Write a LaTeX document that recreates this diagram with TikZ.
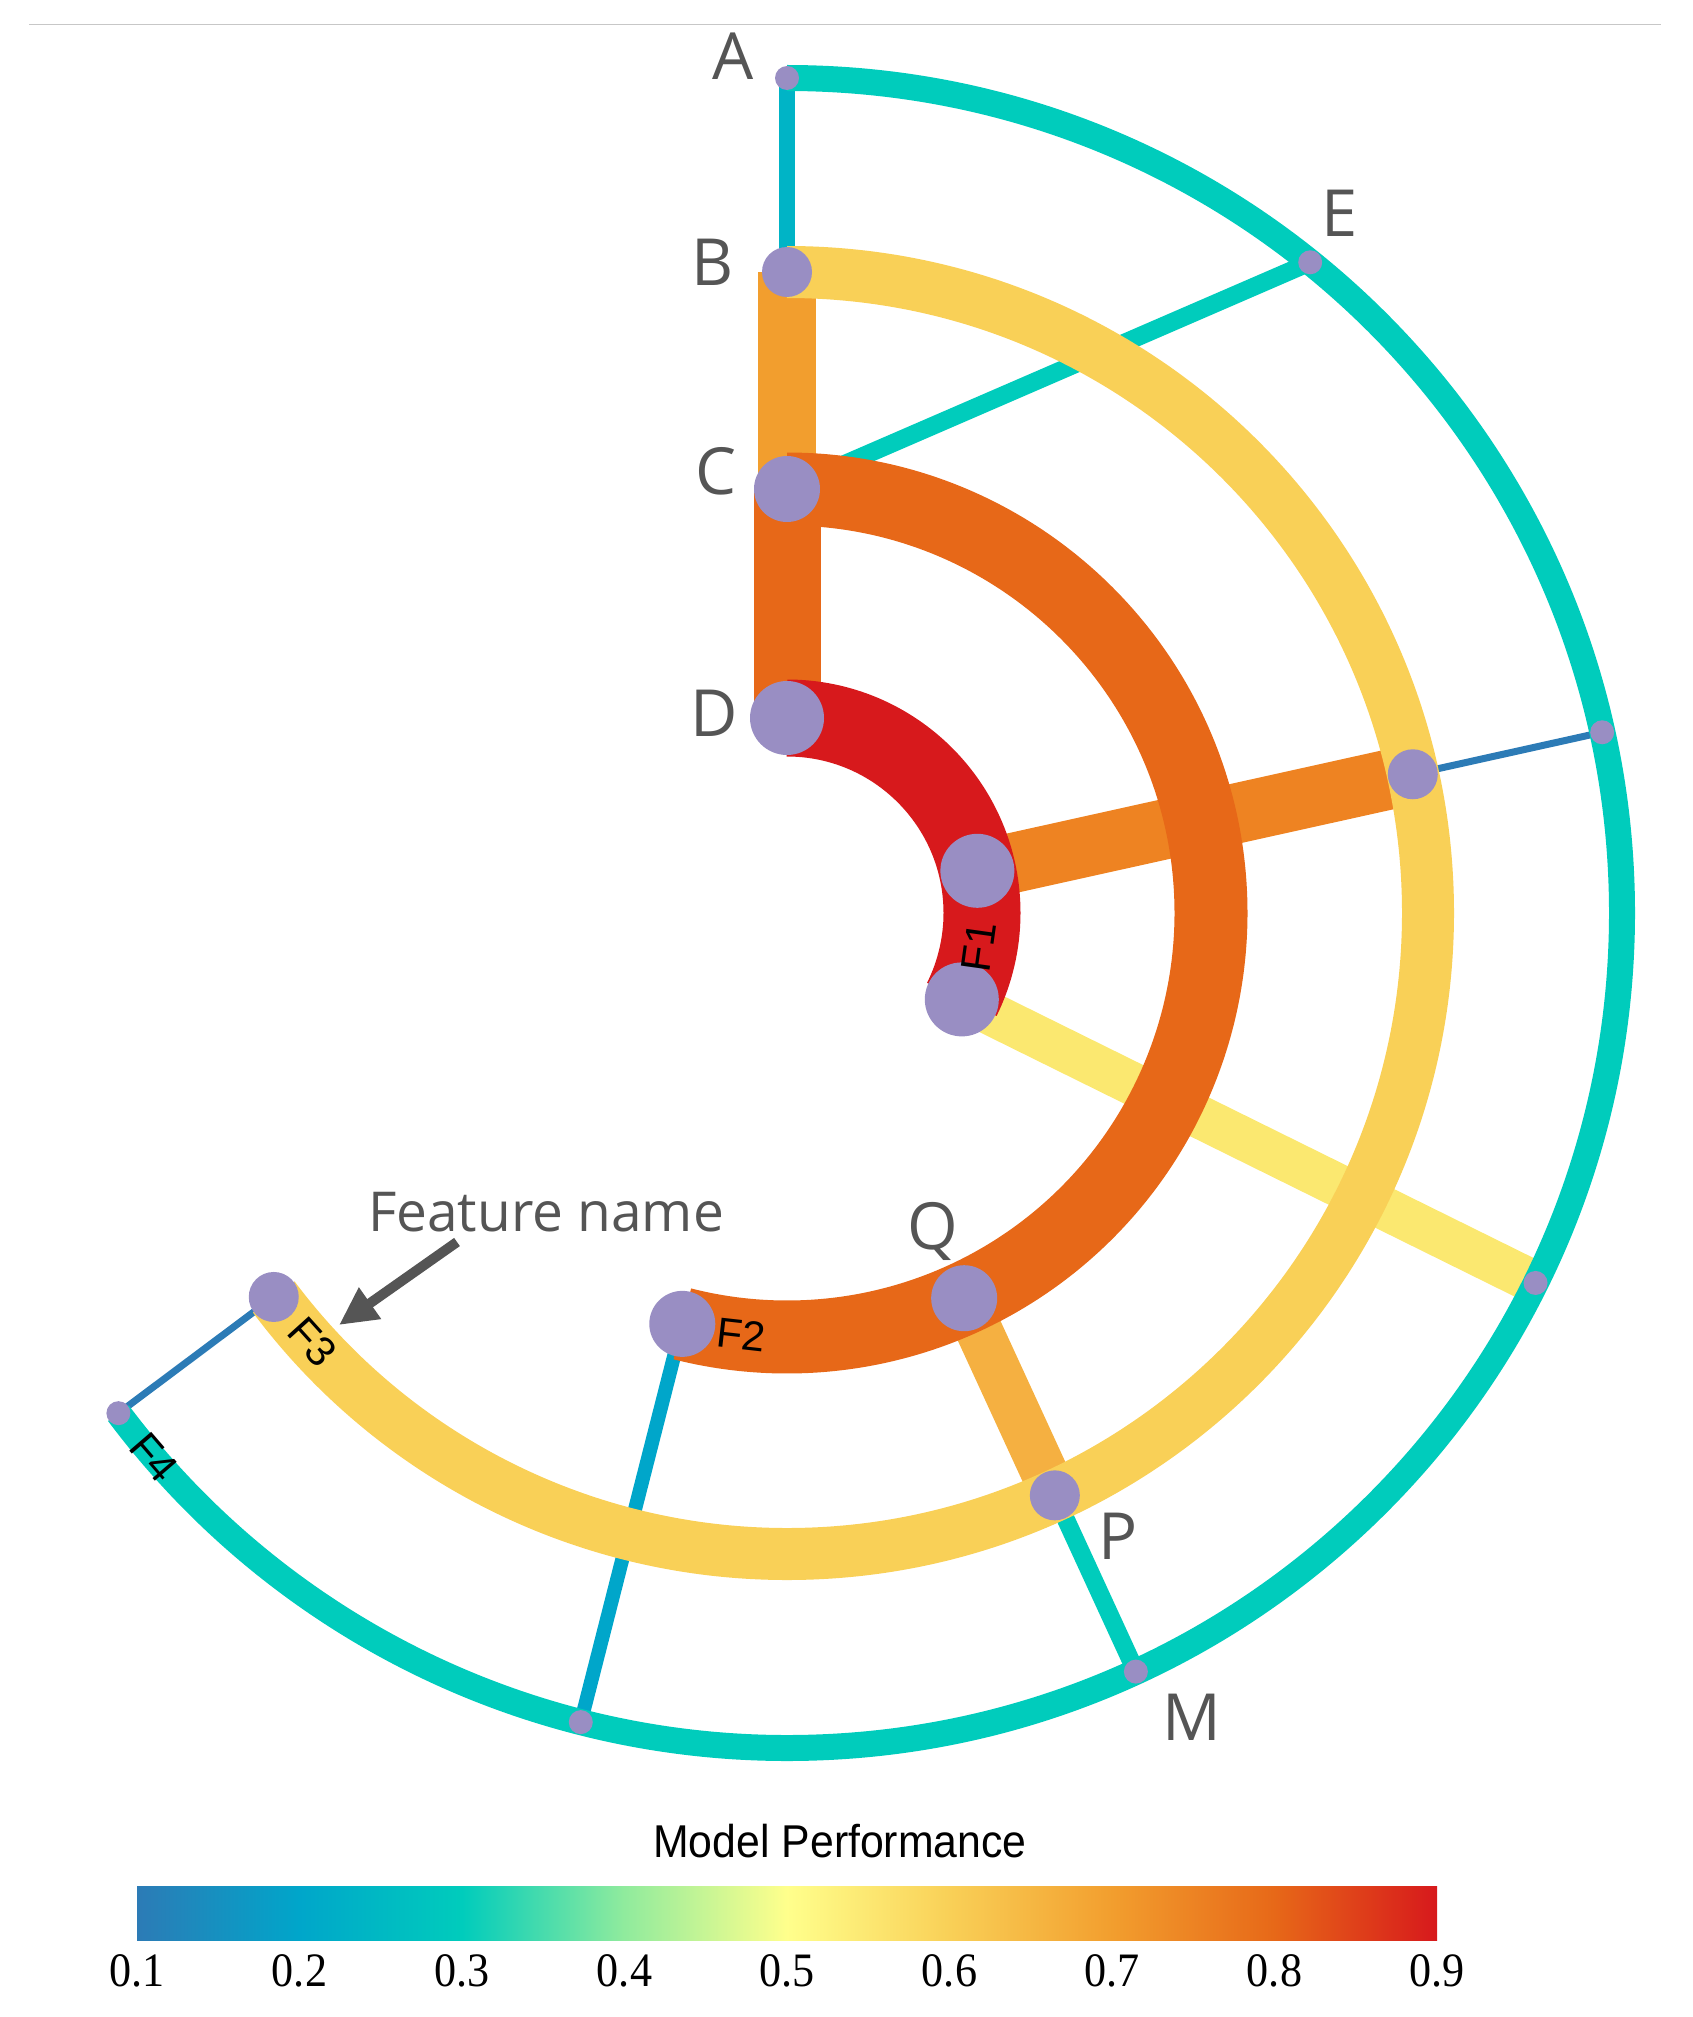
\documentclass[tikz,border=0pt]{standalone}
\usepackage{fontspec}
\setmainfont{Open Sans}
\newfontfamily\arialf{Liberation Sans}
\newfontfamily\timesf{Liberation Serif}
\usetikzlibrary{arrows.meta}
\definecolor{cNode}{HTML}{998EC3}
\definecolor{cTeal}{HTML}{00CCBC}
\definecolor{cYel}{HTML}{F9D057}
\definecolor{cOra}{HTML}{E76818}
\definecolor{cRed}{HTML}{D7191C}
\definecolor{cBC}{HTML}{F29E2E}
\definecolor{cRY}{HTML}{EE8322}
\definecolor{cPale}{HTML}{FBE870}
\definecolor{cQP}{HTML}{F5B041}
\definecolor{cAB}{HTML}{00B4C6}
\definecolor{cSky}{HTML}{00A6CA}
\definecolor{cBlue}{HTML}{2C7BB6}
\definecolor{cLab}{HTML}{555555}
\definecolor{cArrow}{HTML}{555555}
\definecolor{cb1}{HTML}{2C7BB6}
\definecolor{cb2}{HTML}{00A6CA}
\definecolor{cb3}{HTML}{00CCBC}
\definecolor{cb4}{HTML}{90EB9D}
\definecolor{cb5}{HTML}{FFFF8C}
\definecolor{cb6}{HTML}{F9D057}
\definecolor{cb7}{HTML}{F29E2E}
\definecolor{cb8}{HTML}{E76818}
\definecolor{cb9}{HTML}{D7191C}
\pgfdeclarehorizontalshading{cbarshade}{100bp}{color(0bp)=(cb1); color(25bp)=(cb1); color(31.25bp)=(cb2); color(37.5bp)=(cb3); color(43.75bp)=(cb4); color(50bp)=(cb5); color(56.25bp)=(cb6); color(62.5bp)=(cb7); color(68.75bp)=(cb8); color(75bp)=(cb9); color(100bp)=(cb9)}
\pgfdeclarelayer{connlayer}
\pgfdeclarelayer{arclayer}
\pgfsetlayers{connlayer,arclayer,main}
\begin{document}
\begin{tikzpicture}[x=1pt,y=1pt,
  vnode/.style={circle,fill=cNode,inner sep=0pt,outer sep=0pt},
  tiny/.style={vnode,minimum size=24pt},
  small/.style={vnode,minimum size=50pt},
  mid/.style={vnode,minimum size=66pt},
  large/.style={vnode,minimum size=74pt},
  edgeline/.style={line cap=butt},
  lab/.style={font=\fontsize{65}{65}\selectfont,text=cLab,anchor=base,inner sep=0pt},
  flab/.style={font=\arialf\fontsize{42}{42}\selectfont,text=black,inner sep=0pt},
  ticklab/.style={font=\timesf\fontsize{48}{48}\selectfont,text=black,anchor=base,inner sep=0pt,xscale=0.92}
]
\useasboundingbox (0,0) rectangle (1692,-2017);
\draw[line width=1.5pt,draw=black!22] (29,-24.5) -- (1661,-24.5);
\coordinate (O) at (787,-913);
% vertices
\node[tiny]  (A)   at ([shift={(90:835)}]O) {};
\node[small] (B)   at ([shift={(90:641)}]O) {};
\node[mid]   (C)   at ([shift={(90:424)}]O) {};
\node[large] (D)   at ([shift={(90:195)}]O) {};
\node[tiny]  (E)   at ([shift={(51.2:835)}]O) {};
\node[tiny]  (T12) at ([shift={(12.5:835)}]O) {};
\node[small] (Y12) at ([shift={(12.5:641)}]O) {};
\node[large] (R12) at ([shift={(12.5:195)}]O) {};
\node[large] (F1)  at ([shift={(-26.3:195)}]O) {};
\node[tiny]  (T26) at ([shift={(-26.3:835)}]O) {};
\node[mid]   (Q)   at ([shift={(-65.3:424)}]O) {};
\node[small] (P)   at ([shift={(-65.3:641)}]O) {};
\node[tiny]  (M)   at ([shift={(-65.3:835)}]O) {};
\node[mid]   (F2)  at ([shift={(-104.3:424)}]O) {};
\node[tiny]  (T104) at ([shift={(-104.3:835)}]O) {};
\node[small] (F3)  at ([shift={(-143.2:641)}]O) {};
\node[tiny]  (F4)  at ([shift={(-143.2:835)}]O) {};
% connectors
\begin{pgfonlayer}{connlayer}
\draw[edgeline,line width=16pt,draw=cAB]   (A.center) -- (B.center);
\draw[edgeline,line width=58pt,draw=cBC]   (B.center) -- (C.center);
\draw[edgeline,line width=67pt,draw=cOra]  (C.center) -- (D.center);
\draw[edgeline,line width=18pt,draw=cTeal] (C.center) -- (E.center);
\draw[edgeline,line width=60pt,draw=cRY]   (R12.center) -- (Y12.center);
\draw[edgeline,line width=7pt,draw=cBlue]  (Y12.center) -- (T12.center);
\draw[edgeline,line width=43pt,draw=cPale] (F1.center) -- (T26.center);
\draw[edgeline,line width=47pt,draw=cQP]   (Q.center) -- (P.center);
\draw[edgeline,line width=18pt,draw=cTeal] (P.center) -- (M.center);
\draw[edgeline,line width=14pt,draw=cSky]  (F2.center) -- (T104.center);
\draw[edgeline,line width=7pt,draw=cBlue]  (F3.center) -- (F4.center);
\end{pgfonlayer}
% arcs
\begin{pgfonlayer}{arclayer}
\draw[edgeline,line width=26pt,draw=cTeal] (A.center) arc[start angle=90,end angle=-143.2,radius=835];
\draw[edgeline,line width=52pt,draw=cYel]  (B.center) arc[start angle=90,end angle=-143.2,radius=641];
\draw[edgeline,line width=73pt,draw=cOra]  (C.center) arc[start angle=90,end angle=-104.3,radius=424];
\draw[edgeline,line width=77pt,draw=cRed]  (D.center) arc[start angle=90,end angle=-26.3,radius=195];
\end{pgfonlayer}
% feature names along arcs
\node[flab,rotate=82]    (lF1) at ([shift={(-10:195)}]O) {F1};
\node[flab,rotate=-6.4]  (lF2) at ([shift={(-96.2:424)}]O) {F2};
\node[flab,rotate=-47.9] (lF3) at ([shift={(-137.9:640)}]O) {F3};
\node[flab,rotate=-49.3] (lF4) at ([shift={(-139.3:835)}]O) {F4};
% vertex letters
\node[lab] (lA) at (733,-80) {A};
\node[lab] (lB) at (713,-286) {B};
\node[lab] (lC) at (716,-494) {C};
\node[lab] (lD) at (714,-736) {D};
\node[lab] (lE) at (1340,-237) {E};
\node[lab] (lQ) at (933,-1249) {Q};
\node[lab] (lP) at (1118,-1559) {P};
\node[lab] (lM) at (1192,-1740) {M};
% annotation
\node[font=\fontsize{55}{55}\selectfont,text=cLab,anchor=base,inner sep=0pt] (fname) at (546,-1231) {Feature name};
\coordinate (arrS) at (457,-1242);
\coordinate (arrT) at (339,-1325);
\draw[line width=10pt,draw=cArrow,-{Triangle[length=38pt,width=36pt]}] (arrS) -- (arrT);
% colour bar
\node[font=\arialf\fontsize{46}{46}\selectfont,text=black,anchor=base,inner sep=0pt,xscale=0.93] (ttl) at (840,-1857) {Model Performance};
\node[anchor=north west,inner sep=0pt,outer sep=0pt,minimum width=1300pt,minimum height=54pt,shading=cbarshade] (cbar) at (137,-1886) {};
\foreach \k in {1,...,9}{
  \node[ticklab] (t\k) at ({137+162.5*(\k-1)},-1986) {0.\k};
}
\end{tikzpicture}
\end{document}
